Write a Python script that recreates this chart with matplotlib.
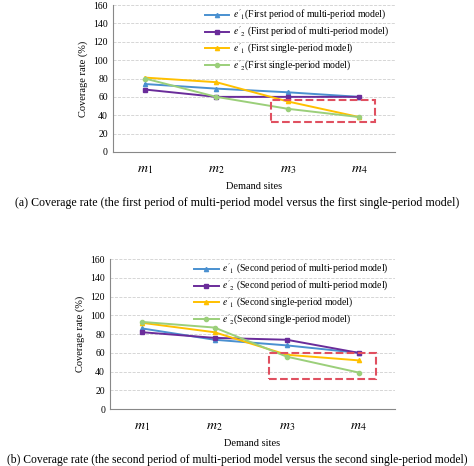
import matplotlib
matplotlib.use("Agg")
import matplotlib.pyplot as plt
from matplotlib.patches import Rectangle

plt.rcParams['font.family'] = ['Liberation Serif', 'DejaVu Serif']
plt.rcParams['mathtext.fontset'] = 'stix'

sites = [r'$m_1$', r'$m_2$', r'$m_3$', r'$m_4$']
yticks = [0, 20, 40, 60, 80, 100, 120, 140, 160]

top_multi_e1 = [74, 69, 65, 60]
top_multi_e2 = [68, 60, 60, 60]
top_single_e1 = [81, 76, 55, 38]
top_single_e2 = [80, 60, 47, 38]
top_labels = [r"$e'_1$(First period of multi-period model)",
              r"$e'_2$ (First period of multi-period model)",
              r"$e'_1$ (First single-period model)",
              r"$e'_2$(First single-period model)"]

bot_multi_e1 = [86, 74, 68, 60]
bot_multi_e2 = [82, 76, 74, 60]
bot_single_e1 = [92, 82, 58, 52]
bot_single_e2 = [93, 87, 56, 39]
bot_labels = [r"$e'_1$ (Second period of multi-period model)",
              r"$e'_2$ (Second period of multi-period model)",
              r"$e'_1$ (Second single-period model)",
              r"$e'_2$(Second single-period model)"]

colors = ['#4a90d0', '#6a2c9a', '#ffc000', '#9bcf7a']
markers = ['^', 's', '^', 'o']

fig = plt.figure(figsize=(4.74, 4.66), dpi=100)

def panel(rect, series, labels, box, caption, cap_y, capfs):
    ax = fig.add_axes(rect)
    x = list(range(len(sites)))
    for s, l, c, m in zip(series, labels, colors, markers):
        ax.plot(x, s, color=c, marker=m, markersize=3, linewidth=1.4, label=l)
    ax.set_xlim(-0.45, 3.5)
    ax.set_ylim(0, 160)
    ax.set_yticks(yticks)
    ax.set_xticks(x)
    ax.set_xticklabels(sites, fontsize=10)
    ax.tick_params(axis='y', labelsize=7, length=0)
    ax.tick_params(axis='x', length=0, pad=8)
    ax.grid(axis='y', linestyle='--', color='#d0d0d0', linewidth=0.6)
    for sp in ['top', 'right']:
        ax.spines[sp].set_visible(False)
    ax.spines['left'].set_color('#888888')
    ax.spines['bottom'].set_color('#888888')
    ax.set_ylabel('Coverage rate (%)', fontsize=7.5)
    ax.set_xlabel('Demand sites', fontsize=7.5, labelpad=4)
    ax.add_patch(Rectangle((box[0], box[1]), box[2], box[3], fill=False,
                           edgecolor='#e05060', linestyle='--', linewidth=1.5, zorder=5))
    ax.legend(loc='upper right', bbox_to_anchor=(1.0, 1.02), fontsize=7, frameon=False,
              handlelength=2.5, labelspacing=0.25, borderaxespad=0.2, handletextpad=0.4)
    fig.text(0.5, cap_y, caption, ha='center', fontsize=capfs)

panel([0.238, 0.674, 0.595, 0.315],
      [top_multi_e1, top_multi_e2, top_single_e1, top_single_e2], top_labels,
      (1.76, 33, 1.46, 24),
      '(a) Coverage rate (the first period of multi-period model versus the first single-period model)',
      1 - 206 / 466, 8.6)
panel([0.232, 0.122, 0.601, 0.322],
      [bot_multi_e1, bot_multi_e2, bot_single_e1, bot_single_e2], bot_labels,
      (1.76, 32, 1.48, 28),
      '(b) Coverage rate (the second period of multi-period model versus the second single-period model)',
      1 - 463 / 466, 8.4)

fig.savefig('out.png', dpi=100)
